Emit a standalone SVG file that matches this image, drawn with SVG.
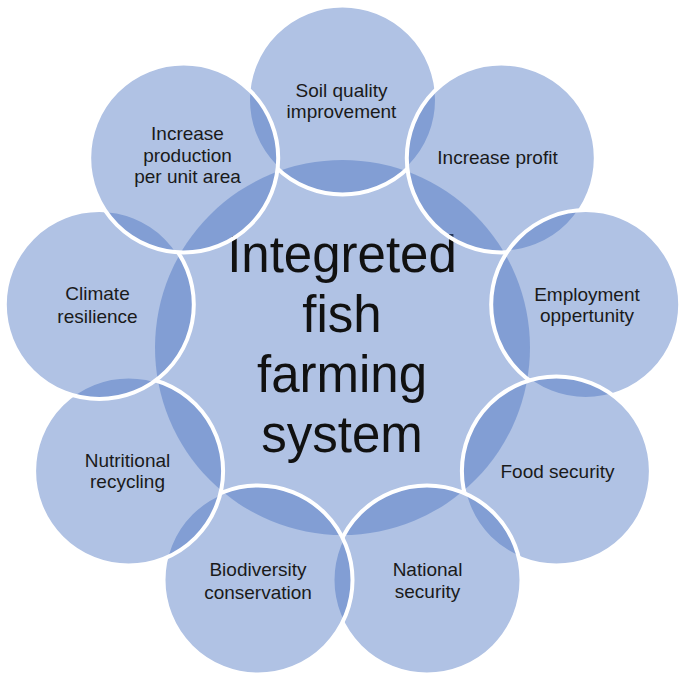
<svg xmlns="http://www.w3.org/2000/svg" width="685" height="679" viewBox="0 0 685 679">
  <style>
    .hub { fill: rgb(67,110,191); fill-opacity: 0.42; stroke: none; }
    .sat { fill: rgb(67,110,191); fill-opacity: 0.42; stroke: #ffffff; stroke-width: 4; }
    .hubtxt { font-family: "Liberation Sans", Arial, sans-serif; font-size: 51px; fill: #111; text-anchor: middle; }
    .lbl { font-family: "Liberation Sans", Arial, sans-serif; font-size: 19px; fill: #1a1a1a; text-anchor: middle; }
  </style>
  <rect width="685" height="679" fill="#ffffff"/>
  <g id="center">
    <circle class="hub" cx="342.5" cy="347.5" r="187.5"/>
    <text class="hubtxt"><tspan x="342" y="272">Integreted</tspan><tspan x="342" y="332">fish</tspan><tspan x="342" y="392">farming</tspan><tspan x="342" y="452">system</tspan></text>
  </g>
  <g id="connectors"></g>
  <g id="soil">
    <circle class="sat" cx="342.5" cy="100" r="94.5"/>
    <text class="lbl"><tspan x="341.5" y="96.5">Soil quality</tspan><tspan x="341.5" y="118">improvement</tspan></text>
  </g>
  <g id="profit">
    <circle class="sat" cx="501.3" cy="158" r="94.5"/>
    <text class="lbl" x="497.5" y="164.3">Increase profit</text>
  </g>
  <g id="employment">
    <circle class="sat" cx="585.7" cy="304.6" r="94.5"/>
    <text class="lbl"><tspan x="587" y="300.7">Employment</tspan><tspan x="587" y="321.7">oppertunity</tspan></text>
  </g>
  <g id="food">
    <circle class="sat" cx="556.4" cy="471" r="94.5"/>
    <text class="lbl" x="557.5" y="478.3">Food security</text>
  </g>
  <g id="national">
    <circle class="sat" cx="427" cy="580" r="94.5"/>
    <text class="lbl"><tspan x="427.5" y="575.7">National</tspan><tspan x="427.5" y="598.3">security</tspan></text>
  </g>
  <g id="biodiversity">
    <circle class="sat" cx="258" cy="580" r="94.5"/>
    <text class="lbl"><tspan x="258" y="575.7">Biodiversity</tspan><tspan x="258" y="599">conservation</tspan></text>
  </g>
  <g id="nutritional">
    <circle class="sat" cx="128.6" cy="471" r="94.5"/>
    <text class="lbl"><tspan x="127.5" y="466.7">Nutritional</tspan><tspan x="127.5" y="488">recycling</tspan></text>
  </g>
  <g id="climate">
    <circle class="sat" cx="99.3" cy="304.6" r="94.5"/>
    <text class="lbl"><tspan x="97.5" y="300">Climate</tspan><tspan x="97.5" y="322.5">resilience</tspan></text>
  </g>
  <g id="production">
    <circle class="sat" cx="183.7" cy="158" r="94.5"/>
    <text class="lbl"><tspan x="187.5" y="140">Increase</tspan><tspan x="187.5" y="161.5">production</tspan><tspan x="187.5" y="183">per unit area</tspan></text>
  </g>
</svg>
